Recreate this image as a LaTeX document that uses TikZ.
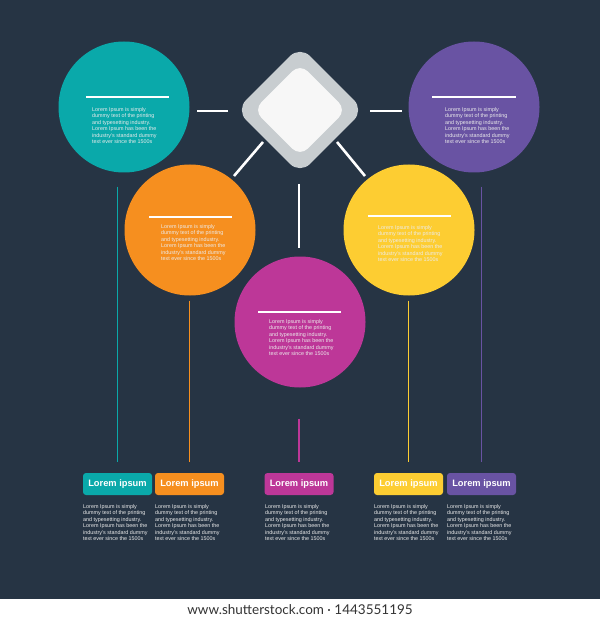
\documentclass[tikz,border=0pt]{standalone}
\usepackage{fontspec}
\setmainfont{Liberation Sans}
\newfontfamily\wmfont{Lato}
\usetikzlibrary{shapes.geometric,calc}
\definecolor{bgnavy}{HTML}{263444}
\definecolor{cteal}{HTML}{0AA9AA}
\definecolor{corange}{HTML}{F68F1F}
\definecolor{cmagenta}{HTML}{BD3798}
\definecolor{cyellow}{HTML}{FDCD32}
\definecolor{cpurple}{HTML}{6953A3}
\definecolor{dgrey}{HTML}{C8CDD0}
\definecolor{dwhite}{HTML}{F7F7F7}
\definecolor{bodytxt}{HTML}{ECECEC}
\definecolor{wmtxt}{HTML}{333333}
\newcommand\loremtext{Lorem Ipsum is simply\\dummy text of the printing\\and typesetting industry.\\Lorem Ipsum has been the\\industry's standard dummy\\text ever since the 1500s}
\begin{document}
\begin{tikzpicture}[x=1pt,y=-1pt,
  bubble/.style={circle,inner sep=0pt,minimum size=131pt},
  rule/.style={draw=white,line width=1.5pt},
  bodytext/.style={anchor=north west,inner sep=0pt,align=left,text=bodytxt,font=\fontsize{5.4}{6.5}\selectfont},
  tag/.style={rounded corners=3pt,minimum width=69pt,minimum height=22pt,inner sep=0pt,text=white,font=\bfseries\fontsize{9.3}{10}\selectfont},
  link/.style={draw=white,line width=2.6pt},
  stem/.style={line width=1.2pt}]

\fill[bgnavy] (0,0) rectangle (600,599);
\fill[white] (0,599) rectangle (600,620);
\useasboundingbox (0,0) rectangle (600,620);

% hub diamond
\node[diamond,aspect=1,fill=dgrey,minimum size=128pt,inner sep=0pt,rounded corners=14pt] (hub) at (300,110) {};
\node[diamond,aspect=1,fill=dwhite,minimum size=93pt,inner sep=0pt,rounded corners=11pt] (hubin) at (300,110) {};

% circles
\node[bubble,fill=cteal] (c1) at (124,107) {};
\node[bubble,fill=cpurple] (c5) at (474,107) {};
\node[bubble,fill=corange] (c2) at (190,230) {};
\node[bubble,fill=cyellow] (c4) at (409,230) {};
\node[bubble,fill=cmagenta] (c3) at (300,322) {};

% rules in circles
\coordinate (r1a) at (86,97);  \coordinate (r1b) at (169,97);
\coordinate (r5a) at (432,97); \coordinate (r5b) at (516,97);
\coordinate (r2a) at (149,217); \coordinate (r2b) at (232,217);
\coordinate (r4a) at (368,216); \coordinate (r4b) at (451,216);
\coordinate (r3a) at (258,312); \coordinate (r3b) at (341,312);
\draw[rule] (r1a) -- (r1b);
\draw[rule] (r5a) -- (r5b);
\draw[rule] (r2a) -- (r2b);
\draw[rule] (r4a) -- (r4b);
\draw[rule] (r3a) -- (r3b);

% circle texts
\node[bodytext] (x1) at (92,107) {\loremtext};
\node[bodytext] (x5) at (445,107) {\loremtext};
\node[bodytext] (x2) at (161,224) {\loremtext};
\node[bodytext] (x4) at (378,225) {\loremtext};
\node[bodytext] (x3) at (269,319) {\loremtext};

% hub connectors
\coordinate (kL1) at (228,111); \coordinate (kL2) at (197,111);
\coordinate (kR1) at (370,111); \coordinate (kR2) at (402,111);
\coordinate (kDL1) at (263,142); \coordinate (kDL2) at (234,176);
\coordinate (kDR1) at (337,142); \coordinate (kDR2) at (365,176);
\coordinate (kV1) at (299,184); \coordinate (kV2) at (299,248);
\draw[link] (kL1) -- (kL2);
\draw[link] (kR1) -- (kR2);
\draw[link] (kDL1) -- (kDL2);
\draw[link] (kDR1) -- (kDR2);
\draw[link] (kV1) -- (kV2);

% tags
\node[tag,fill=cteal] (t1) at (117.5,484) {Lorem ipsum};
\node[tag,fill=corange] (t2) at (189.5,484) {Lorem ipsum};
\node[tag,fill=cmagenta] (t3) at (299,484) {Lorem ipsum};
\node[tag,fill=cyellow] (t4) at (408.5,484) {Lorem ipsum};
\node[tag,fill=cpurple] (t5) at (481.5,484) {Lorem ipsum};

% stems
\draw[stem,draw=cteal,shorten <=14pt,shorten >=11pt] (c1.south -| t1.north) -- (t1.north);
\draw[stem,draw=corange,shorten <=5pt,shorten >=11pt] (c2.south -| t2.north) -- (t2.north);
\draw[stem,draw=cmagenta,shorten <=31pt,shorten >=11pt] (c3.south -| t3.north) -- (t3.north);
\draw[stem,draw=cyellow,shorten <=5pt,shorten >=11pt] (c4.south -| t4.north) -- (t4.north);
\draw[stem,draw=cpurple,shorten <=14pt,shorten >=11pt] (c5.south -| t5.north) -- (t5.north);

% bottom texts
\node[bodytext] (b1) at (83,504) {\loremtext};
\node[bodytext] (b2) at (155,504) {\loremtext};
\node[bodytext] (b3) at (265,504) {\loremtext};
\node[bodytext] (b4) at (374,504) {\loremtext};
\node[bodytext] (b5) at (447,504) {\loremtext};

% footer
\node[text=wmtxt,font=\wmfont\fontsize{13.5}{15}\selectfont,inner sep=0pt] (wm) at (300,609.5) {www.shutterstock.com · 1443551195};
\end{tikzpicture}
\end{document}
